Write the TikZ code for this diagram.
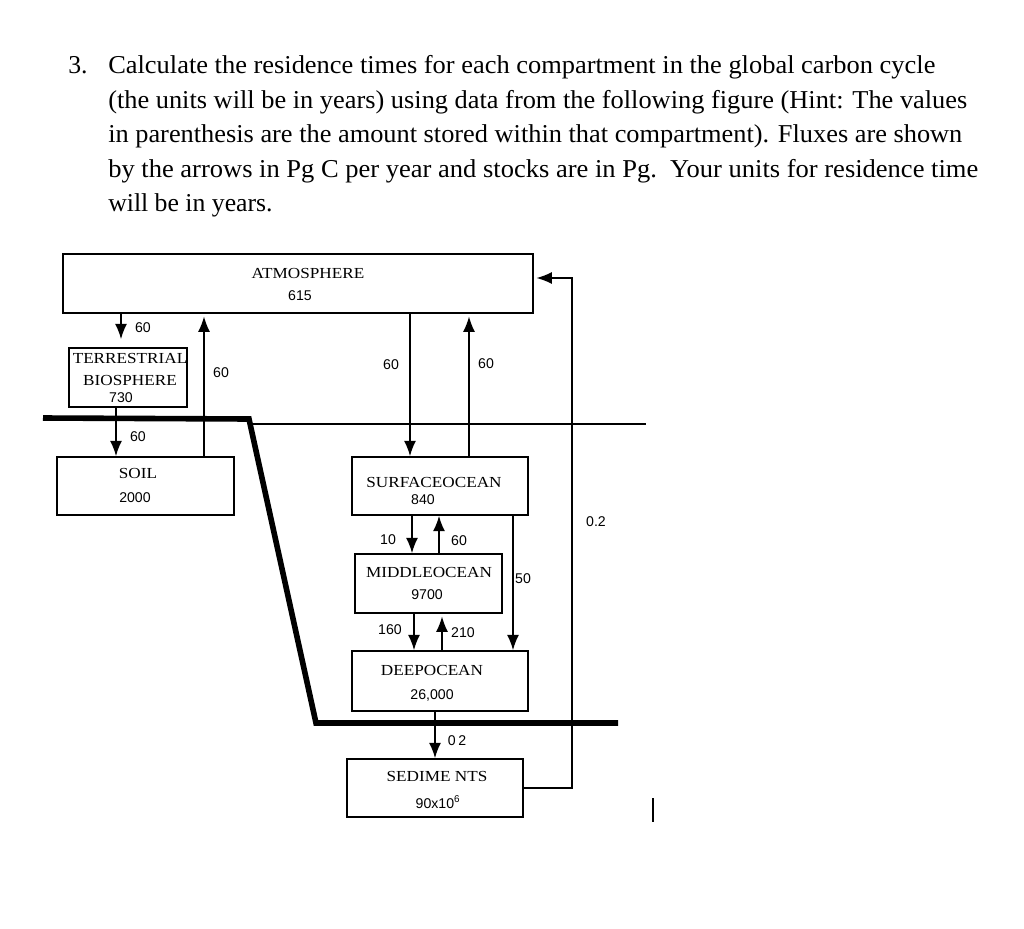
\documentclass[tikz,border=0pt]{standalone}
\usepackage{fontspec}
\usepackage{graphicx}
\setmainfont{Liberation Serif}
\newfontfamily\numfont{Liberation Sans}
\newfontfamily\capfont[FakeStretch=1.12]{Liberation Serif}
\usetikzlibrary{arrows.meta}
\begin{document}
\begin{tikzpicture}[x=0.75pt,y=-0.75pt,
  cbox/.style n args={2}{draw, line width=1.2pt, minimum width=#1*0.75pt, minimum height=#2*0.75pt, inner sep=0pt},
  captxt/.style={inner sep=0pt, font=\capfont\fontsize{11.5}{13}\selectfont},
  numtxt/.style={inner sep=0pt, font=\numfont\fontsize{10.6}{12}\selectfont},
  qline/.style={anchor=base west, inner sep=0pt, font=\fontsize{19.3}{23}\selectfont},
  flow/.style={line width=1.2pt, -{Latex[length=11.5pt,width=9pt]}},
  boundary/.style={line width=4.2pt, line join=miter},
]
\useasboundingbox (0,0) rectangle (1024,928);
% question text
\node[qline] (q0) at (68,73.5) {3.};
\node[qline] (q1) at (108,73.5) {\resizebox{620.25pt}{\height}{Calculate the residence times for each compartment in the global carbon cycle}};
\node[qline] (q2) at (108,108) {\resizebox{644.25pt}{\height}{(the units will be in years) using data from the following figure (Hint: The values}};
\node[qline] (q3) at (108,142.5) {\resizebox{640.5pt}{\height}{in parenthesis are the amount stored within that compartment). Fluxes are shown}};
\node[qline] (q4) at (108,177) {\resizebox{652.5pt}{\height}{by the arrows in Pg C per year and stocks are in Pg.\ \ Your units for residence time}};
\node[qline] (q5) at (108,211.5) {will be in years.};

% boxes
\node[cbox={470}{59}] (atm) at (298,283.5) {};
\node[cbox={118}{59}] (terr) at (128,377.5) {};
\node[cbox={177}{58}] (soil) at (145.5,486) {};
\node[cbox={176}{58}] (surf) at (440,486) {};
\node[cbox={147}{59}] (mid) at (428.5,583.5) {};
\node[cbox={176}{60}] (deep) at (440,681) {};
\node[cbox={176}{58}] (sed) at (435,788) {};

% box texts
\node[captxt] (atmT) at (308,273) {ATMOSPHERE};
\node[numtxt] (atmN) at (300,296) {615};
\node[captxt] (terrT1) at (130,358) {TERRESTRIAL};
\node[captxt] (terrT2) at (130,380) {BIOSPHERE};
\node[numtxt] (terrN) at (121,398) {730};
\node[captxt] (soilT) at (138,473) {SOIL};
\node[numtxt] (soilN) at (135,498) {2000};
\node[captxt] (surfT) at (434,482) {SURFACEOCEAN};
\node[numtxt] (surfN) at (423,500) {840};
\node[captxt] (midT) at (429,572) {MIDDLEOCEAN};
\node[numtxt] (midN) at (427,595) {9700};
\node[captxt] (deepT) at (432,670) {DEEPOCEAN};
\node[numtxt] (deepN) at (432,695) {26,000};
\node[captxt] (sedT) at (437,776) {SEDIME NTS};
\node[numtxt] (sedN) at (438,802) {90x10\textsuperscript{6}};

% boundaries
\draw[boundary] (43,418) -- (249,419) -- (316,723) -- (618,723);
\draw[line width=1.1pt] (252,424) -- (646,424);
\draw[line width=1.2pt] (653,798) -- (653,822);

% fluxes
\draw[flow, shorten >=6pt] (121,0 |- atm.south) -- (121,0 |- terr.north);
\draw[flow, shorten >=2pt] (204,0 |- soil.north) -- (204,0 |- atm.south);
\draw[flow] (116,0 |- terr.south) -- (116,0 |- soil.north);
\draw[flow] (410,0 |- atm.south) -- (410,0 |- surf.north);
\draw[flow, shorten >=2pt] (469,0 |- surf.north) -- (469,0 |- atm.south);
\draw[flow] (412,0 |- surf.south) -- (412,0 |- mid.north);
\draw[flow] (439,0 |- mid.north) -- (439,0 |- surf.south);
\draw[flow] (513,0 |- surf.south) -- (513,0 |- deep.north);
\draw[flow] (414,0 |- mid.south) -- (414,0 |- deep.north);
\draw[flow, shorten >=2pt] (442,0 |- deep.north) -- (442,0 |- mid.south);
\draw[flow] (435,0 |- deep.south) -- (435,0 |- sed.north);
\coordinate (ret) at (572,278);
\draw[flow, shorten >=2pt] (sed.east) -| (ret) -- (atm.east |- ret);

% flux labels
\node[numtxt] (l1) at (143,328) {60};
\node[numtxt] (l2) at (221,373) {60};
\node[numtxt] (l3) at (138,437) {60};
\node[numtxt] (l4) at (391,365) {60};
\node[numtxt] (l5) at (486,364) {60};
\node[numtxt] (l6) at (596,522) {0.2};
\node[numtxt] (l7) at (388,540) {10};
\node[numtxt] (l8) at (459,541) {60};
\node[numtxt] (l9) at (523,579) {50};
\node[numtxt] (l10) at (390,630) {160};
\node[numtxt] (l11) at (463,633) {210};
\node[numtxt] (l12) at (457,741) {0\hspace{2pt}2};
\end{tikzpicture}
\end{document}
